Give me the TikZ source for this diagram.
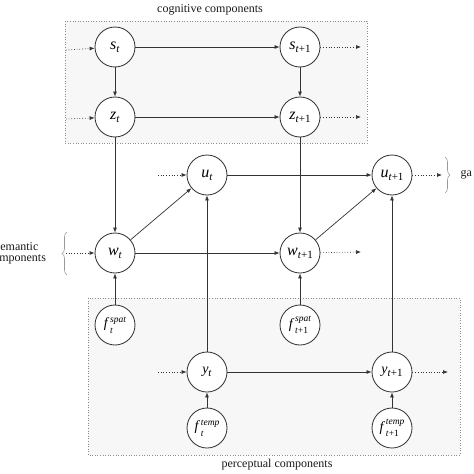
\documentclass[tikz,border=0pt]{standalone}
\usepackage{fontspec}
\setmainfont{Liberation Serif}
\usetikzlibrary{arrows.meta,decorations.pathreplacing}
\newcommand\lowx[1]{\raisebox{-3pt}{\fontsize{11}{11}\selectfont #1}}
\newcommand\vv[2]{\textit{#1}\lowx{#2}}
\newcommand\ff[2]{\textit{f}\kern0.8pt\raisebox{-5.5pt}{\fontsize{9.5}{9.5}\selectfont\shortstack[l]{\textit{#1}\\[0.5pt]#2}}}
\begin{document}
\begin{tikzpicture}[x=1pt,y=-1pt,
  var/.style={circle,draw=black!78,fill=white,line width=0.85pt,minimum size=40pt,inner sep=0pt,font=\fontsize{16}{18}\selectfont},
  fvar/.style={var,font=\fontsize{14}{16}\selectfont},
  edge/.style={draw=black!80,line width=0.7pt,-{Latex[length=5pt,width=4pt]}},
  dots/.style={draw=black!80,line width=0.7pt,dotted,-{Latex[length=5pt,width=4pt]}},
  group/.style={draw=black!45,dotted,fill=black!3,line width=0.6pt},
  lbl/.style={font=\fontsize{12}{13}\selectfont,text=black!90},
  brc/.style={draw=black!40,line width=0.6pt,decorate,decoration={brace,amplitude=5pt}}]
\useasboundingbox (0,0) rectangle (474,474);
\begin{scope}
\clip (0,0) rectangle (474,474);
% groups
\draw[group] (65,21) rectangle (367,143);
\draw[group] (88,298) rectangle (460,455);
\node[lbl] (cog) at (210,10) {cognitive components};
\node[lbl] (per) at (277,465) {perceptual components};
% nodes
\node[var] (st) at (115,47) {\vv{s}{\textit{t}}};
\node[var] (st1) at (300,47) {\vv{s}{\textit{t}+1}};
\node[var] (zt) at (115,117) {\vv{z}{\textit{t}}};
\node[var] (zt1) at (300,117) {\vv{z}{\textit{t}+1}};
\node[var] (ut) at (207,175) {\vv{u}{\textit{t}}};
\node[var] (ut1) at (392,175) {\vv{u}{\textit{t}+1}};
\node[var] (wt) at (115,253) {\vv{w}{\textit{t}}};
\node[var] (wt1) at (300,253) {\vv{w}{\textit{t}+1}};
\node[fvar] (fst) at (115,325) {\ff{spat}{\textit{t}}};
\node[fvar] (fst1) at (300,325) {\ff{spat}{\textit{t}+1}};
\node[var,font=\fontsize{14}{16}\selectfont] (yt) at (207,372) {\vv{y}{\textit{t}}};
\node[var,font=\fontsize{14}{16}\selectfont] (yt1) at (392,372) {\vv{y}{\textit{t}+1}};
\node[fvar] (ftt) at (207,428) {\ff{temp}{\textit{t}}};
\node[fvar] (ftt1) at (392,428) {\ff{temp}{\textit{t}+1}};
% dotted in/out
\coordinate (sin) at (66,50);
\coordinate (zin) at (66,119);
\coordinate (win) at (66,253);
\coordinate (uin) at (158,175);
\coordinate (yin) at (158,372);
\coordinate (sout) at (361,47);
\coordinate (zout) at (361,117);
\coordinate (wout) at (361,252);
\coordinate (uout) at (442,175);
\coordinate (yout) at (448,372);
\draw[dots] (sin) -- (st);
\draw[dots] (zin) -- (zt);
\draw[dots] (win) -- (wt);
\draw[dots] (uin) -- (ut);
\draw[dots] (yin) -- (yt);
\draw[dots] (st1) -- (sout);
\draw[dots] (zt1) -- (zout);
\draw[dots] (wt1) -- (wout);
\draw[dots] (ut1) -- (uout);
\draw[dots] (yt1) -- (yout);
% edges
\draw[edge] (st) -- (st1);
\draw[edge] (st) -- (zt);
\draw[edge] (st1) -- (zt1);
\draw[edge] (zt) -- (zt1);
\draw[edge] (zt) -- (wt);
\draw[edge] (zt1) -- (wt1);
\draw[edge] (wt) -- (ut);
\draw[edge] (wt) -- (wt1);
\draw[edge] (wt1) -- (ut1);
\draw[edge] (ut) -- (ut1);
\draw[edge] (yt) -- (ut);
\draw[edge] (yt1) -- (ut1);
\draw[edge] (fst) -- (wt);
\draw[edge] (fst1) -- (wt1);
\draw[edge] (ftt) -- (yt);
\draw[edge] (ftt1) -- (yt1);
\draw[edge] (yt) -- (yt1);
% braces and side labels
\coordinate (lbb) at (67,275);
\coordinate (lbt) at (67,232);
\draw[brc] (lbb) -- (lbt);
\coordinate (rbt) at (445,157);
\coordinate (rbb) at (445,193);
\draw[brc] (rbt) -- (rbb);
\node[lbl,align=center] (sem) at (17,253) {semantic\\[-2pt]components};
\node[lbl,anchor=west] (gaz) at (457,175) {ga};
\end{scope}
\end{tikzpicture}
\end{document}
